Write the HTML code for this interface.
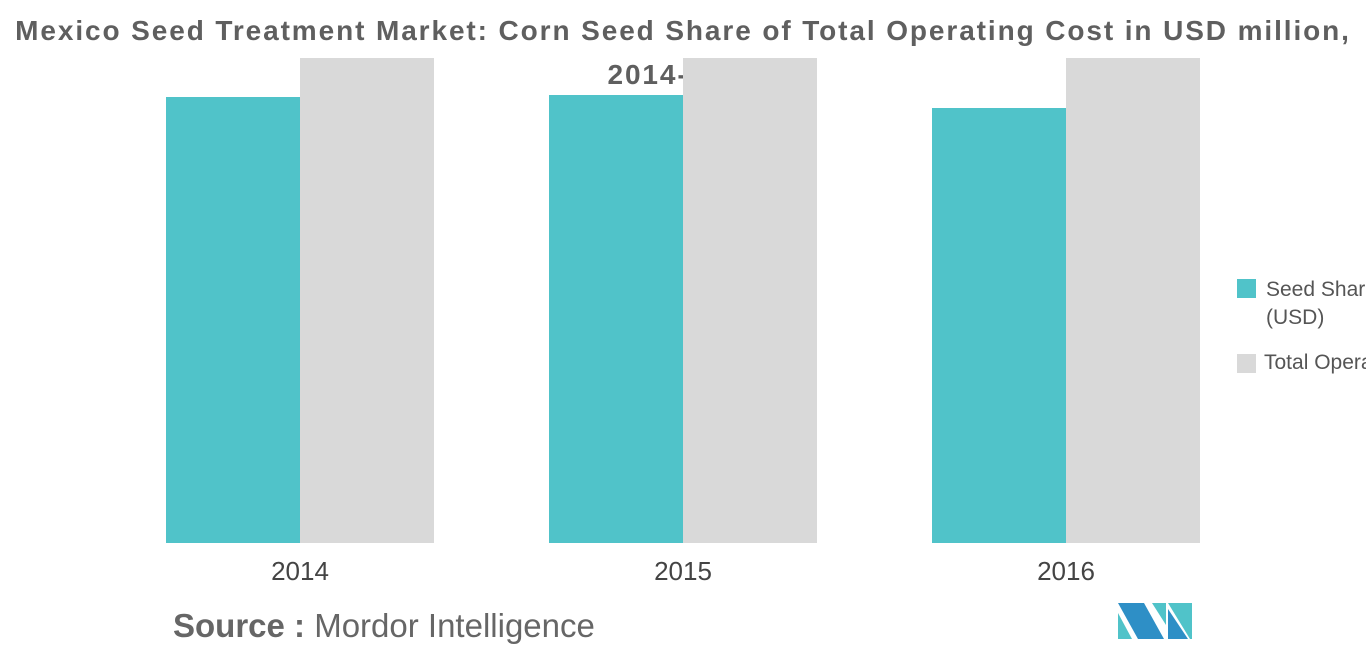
<!DOCTYPE html>
<html><head><meta charset="utf-8"><style>
body{margin:0;width:1366px;height:655px;background:#fff;position:relative;overflow:hidden;font-family:"Liberation Sans",sans-serif}
.t{position:absolute;left:0;width:1366px;text-align:center;color:#5f5f5f;font-weight:bold;font-size:28px;white-space:nowrap;letter-spacing:1.9px}
.b{position:absolute}
.tl{background:#50c3c9}.gr{background:#d9d9d9}
.x{position:absolute;top:556px;width:134px;text-align:center;font-size:26px;color:#444}
.lgw{position:absolute;left:1230px;top:270px;width:136px;height:120px;overflow:hidden}
.lg{position:absolute;font-size:21px;color:#555;white-space:nowrap}
</style></head><body>
<div style="position:absolute;left:0;top:0;width:1366px;height:100px;overflow:hidden">
<div class="t" style="top:15px">Mexico Seed Treatment Market: Corn Seed Share of Total Operating Cost in USD million,</div>
<div class="t" style="top:59px">2014-2016</div>
</div>
<div class="b tl" style="left:166px;top:97px;width:134px;height:446px"></div>
<div class="b gr" style="left:300px;top:58px;width:134px;height:485px"></div>
<div class="b tl" style="left:549px;top:95px;width:134px;height:448px"></div>
<div class="b gr" style="left:683px;top:58px;width:134px;height:485px"></div>
<div class="b tl" style="left:932px;top:108px;width:134px;height:435px"></div>
<div class="b gr" style="left:1066px;top:58px;width:134px;height:485px"></div>
<div class="x" style="left:233px">2014</div>
<div class="x" style="left:616px">2015</div>
<div class="x" style="left:999px">2016</div>
<div class="lgw">
<div class="b tl" style="left:7px;top:9px;width:19px;height:19px"></div>
<div class="lg" style="left:36px;top:6px;line-height:28px">Seed Share<br>(USD)</div>
<div class="b gr" style="left:7px;top:84px;width:19px;height:19px"></div>
<div class="lg" style="left:34px;top:81px">Total Operating Cost</div>
</div>
<div style="position:absolute;left:173px;top:607px;font-size:33px;color:#666"><b>Source :</b> Mordor Intelligence</div>
<svg style="position:absolute;left:1118px;top:603px" width="74" height="38">
<polygon points="0,0 26,0 46,36 20,36" fill="#2e8fc6"/>
<polygon points="0,10 14,36 0,36" fill="#50c3c9"/>
<polygon points="34,0 48,0 48,22" fill="#50c3c9"/>
<polygon points="50,0 74,0 74,36 72,36" fill="#50c3c9"/>
<polygon points="50,6 70,36 50,36" fill="#2e8fc6"/>
</svg>
</body></html>
